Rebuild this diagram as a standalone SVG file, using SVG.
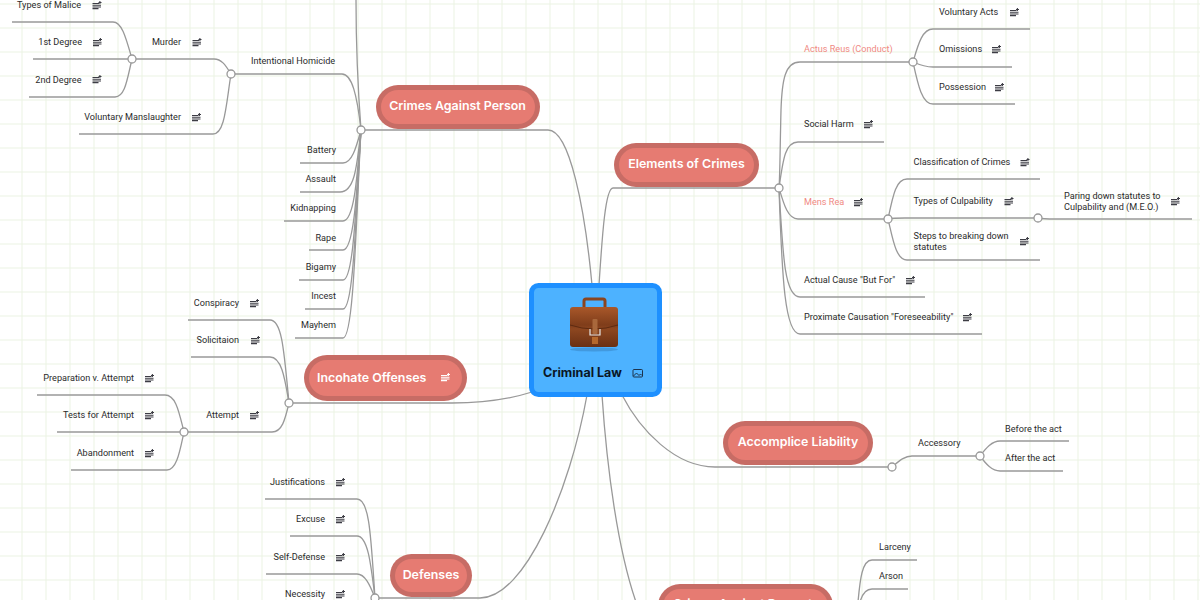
<svg xmlns="http://www.w3.org/2000/svg" width="1200" height="600" viewBox="0 0 1200 600">
<style>
text{font-family:"Roboto","Liberation Sans",sans-serif;font-size:9.15px;fill:#2b2b2b;dominant-baseline:central}
.r{text-anchor:end}
.red{fill:#f08a84}
.pill{font-family:"Inter","Liberation Sans",sans-serif;font-size:12.4px;font-weight:600;fill:#fff;text-anchor:middle;translate:0 -0.8px}
.root{font-family:"Inter","Liberation Sans",sans-serif;font-size:12.5px;font-weight:700;fill:#0a1626}
.o{fill:#c76c65}.i{fill:#e67b72}
.grid path{stroke:#ebf3e3;stroke-width:1;fill:none}
#connectors path{fill:none;stroke:#999;stroke-width:1.3}
#connectors circle{fill:#fff;stroke:#999;stroke-width:1.3}
</style>
<defs>
<g id="note" fill="none" stroke="#3c3c44" stroke-width="1.050"><path d="M0 2.500H6.500M0 4.200H8.500M0 5.900H8.500M0 7.600H6"/><path d="M7.400 0V3M6 1.500H9"/></g>
<g id="noteW" fill="none" stroke="#fff" stroke-width="1.050"><path d="M0 2.500H6.500M0 4.200H8.500M0 5.900H8.500M0 7.600H6"/><path d="M7.400 0V3M6 1.500H9"/></g>
<linearGradient id="bag" x1="0" y1="0" x2="0" y2="1"><stop offset="0" stop-color="#a9582a"/><stop offset="0.45" stop-color="#7f3d1a"/><stop offset="0.55" stop-color="#8d4720"/><stop offset="1" stop-color="#6a3014"/></linearGradient>
</defs>
<rect width="1200" height="600" fill="#fff"/>
<g class="grid"><path d="M22 0V600M46 0V600M70 0V600M94 0V600M118 0V600M142 0V600M166 0V600M190 0V600M214 0V600M238 0V600M262 0V600M286 0V600M310 0V600M334 0V600M358 0V600M382 0V600M406 0V600M430 0V600M454 0V600M478 0V600M502 0V600M526 0V600M550 0V600M574 0V600M598 0V600M622 0V600M646 0V600M670 0V600M694 0V600M718 0V600M742 0V600M766 0V600M790 0V600M814 0V600M838 0V600M862 0V600M886 0V600M910 0V600M934 0V600M958 0V600M982 0V600M1006 0V600M1030 0V600M1054 0V600M1078 0V600M1102 0V600M1126 0V600M1150 0V600M1174 0V600M1198 0V600"/><path d="M0 4H1200M0 28H1200M0 52H1200M0 76H1200M0 100H1200M0 124H1200M0 148H1200M0 172H1200M0 196H1200M0 220H1200M0 244H1200M0 268H1200M0 292H1200M0 316H1200M0 340H1200M0 364H1200M0 388H1200M0 412H1200M0 436H1200M0 460H1200M0 484H1200M0 508H1200M0 532H1200M0 556H1200M0 580H1200"/></g>
<g id="connectors">
<path d="M361 130H548C570 130 585 210 592 285"/>
<path d="M779 188H613C605 188 602 240 599 285"/>
<path d="M622 395C640 430 675 467 715 467H892"/>
<path d="M289 403H452C480 403 510 399 532 392"/>
<path d="M375 598H480C525 598 570 490 587 395"/>
<path d="M602 395C607 470 618 550 636 602"/>
<path d="M361 130C358 90 356 40 356 0"/>
<path d="M231 74H342C352 74 357 95 361 130"/>
<path d="M132 59H214C222 59 226 66 231 74"/>
<path d="M79 134H213C225 134 226 105 231 74"/>
<path d="M12 22H113C122 22 126 38 132 59"/>
<path d="M33 59H132"/>
<path d="M29 97H115C125 97 127 80 132 59"/>
<path d="M300 163H343C352 163 356 148 361 130"/>
<path d="M300 192H340C355 192 357 165 361 130"/>
<path d="M284 221H343C354 221 357 180 361 130"/>
<path d="M309 250H343C354 250 357 190 361 130"/>
<path d="M299 280H343C354 280 356 200 361 130"/>
<path d="M305 309H343C354 309 356 210 361 130"/>
<path d="M295 338H343C354 338 356 220 361 130"/>
<path d="M188 320H270C282 320 284 350 289 403"/>
<path d="M191 357H270C282 357 285 380 289 403"/>
<path d="M184 432H272C282 432 285 420 289 403"/>
<path d="M37 395H165C176 395 179 412 184 432"/>
<path d="M57 432H184"/>
<path d="M71 470H167C177 470 180 450 184 432"/>
<path d="M265 499H357C370 499 371 540 375 598"/>
<path d="M290 536H357C368 536 371 565 375 598"/>
<path d="M266 574H357C365 574 370 585 375 598"/>
<path d="M913 62H800C785 62 782 80 781 110C780 150 780 175 779 188"/>
<path d="M884 142H798C785 142 783 160 779 188"/>
<path d="M888 219H798C788 219 784 205 779 188"/>
<path d="M925 297H800C785 297 783 260 779 188"/>
<path d="M982 334H800C785 334 782 280 779 188"/>
<path d="M1030 29H933C922 29 918 45 913 62"/>
<path d="M1012 67H933C926 67 920 65 913 62"/>
<path d="M1015 104H933C922 104 918 85 913 62"/>
<path d="M1040 179H907C896 179 893 195 888 219"/>
<path d="M1038 218H905C898 218 893 218 888 219"/>
<path d="M1040 260H907C896 260 893 240 888 219"/>
<path d="M1192 219H1055C1048 219 1043 219 1038 218"/>
<path d="M892 467C898 462 904 456 912 456H980"/>
<path d="M1069 441H1000C992 441 986 448 980 456"/>
<path d="M1063 471H1000C992 471 986 464 980 456"/>
<path d="M917 560H872C862 560 860 580 858 602"/>
<path d="M908 589H872C865 589 862 595 860 602"/>
<circle cx="361" cy="130" r="4"/><circle cx="231" cy="74" r="4"/><circle cx="132" cy="59" r="4"/><circle cx="289" cy="403" r="4"/><circle cx="184" cy="432" r="4"/><circle cx="375" cy="598" r="4"/><circle cx="779" cy="188" r="4"/><circle cx="913" cy="62" r="4"/><circle cx="888" cy="219" r="4"/><circle cx="1038" cy="218" r="4"/><circle cx="892" cy="467" r="4"/><circle cx="980" cy="456" r="4"/>
</g>
<g id="root">
<rect x="531.500" y="285.500" width="128" height="109" rx="7" fill="#4db2ff" stroke="#1e90ff" stroke-width="5"/>
<ellipse cx="594" cy="349.500" rx="24" ry="2" fill="#3d8fd0" opacity="0.7"/>
<path d="M584 307V301Q584 299 586 299H603Q605 299 605 301V307" fill="none" stroke="#8a4520" stroke-width="3"/>
<rect x="570" y="307" width="48" height="40" rx="3" fill="url(#bag)"/>
<path d="M570 325Q594 333 618 325" fill="none" stroke="#5e2a10" stroke-width="1"/>
<rect x="592.500" y="319" width="5" height="15" rx="1" fill="#a9683c"/>
<path d="M590 329V335H600V329" fill="none" stroke="#e6e6e6" stroke-width="1.200"/>
<rect x="592" y="337" width="6" height="7" fill="#b5682c"/>
<text x="543" y="372" class="root">Criminal Law</text>
<g fill="none" stroke="#16263a" stroke-width="0.9"><rect x="633" y="369.500" width="9.500" height="7.500" rx="1"/><path d="M633.500 376L636.500 373L639 375.500L640.500 374L642 375.500"/></g>
</g>
<g id="n-person"><rect class="o" x="376" y="85" width="164" height="44" rx="22"/><rect class="i" x="381" y="90" width="154" height="34" rx="17"/><text class="pill" x="457.500" y="106">Crimes Against Person</text></g>
<g id="n-elements"><rect class="o" x="614" y="143" width="145" height="44" rx="22"/><rect class="i" x="619" y="148" width="135" height="34" rx="17"/><text class="pill" x="686.500" y="164">Elements of Crimes</text></g>
<g id="n-incohate"><rect class="o" x="304" y="355" width="163" height="46" rx="23"/><rect class="i" x="309" y="360" width="153" height="36" rx="18"/><text class="pill" x="317" y="378" style="text-anchor:start">Incohate Offenses</text><use href="#noteW" x="441" y="373"/></g>
<g id="n-accomplice"><rect class="o" x="723" y="421" width="150" height="44" rx="22"/><rect class="i" x="728" y="426" width="140" height="34" rx="17"/><text class="pill" x="798" y="442">Accomplice Liability</text></g>
<g id="n-defenses"><rect class="o" x="390" y="554" width="82" height="43" rx="21.500"/><rect class="i" x="395" y="559" width="72" height="33" rx="16.500"/><text class="pill" x="431" y="575">Defenses</text></g>
<g id="n-property"><rect class="o" x="658" y="584" width="175" height="44" rx="22"/><rect class="i" x="663" y="589" width="165" height="34" rx="17"/><text class="pill" x="673" y="604" style="text-anchor:start">Crimes Against Property</text></g>
<g id="n-left">
<text class="r" x="81" y="5">Types of Malice</text><use href="#note" x="92.500" y="1"/>
<text class="r" x="82" y="42">1st Degree</text><use href="#note" x="93" y="38"/>
<text class="r" x="81.500" y="79.500">2nd Degree</text><use href="#note" x="92.500" y="75"/>
<text class="r" x="181" y="117">Voluntary Manslaughter</text><use href="#note" x="192" y="113"/>
<text class="r" x="181" y="42">Murder</text><use href="#note" x="192.500" y="38"/>
<text x="251" y="61">Intentional Homicide</text>
<text class="r" x="336" y="150">Battery</text>
<text class="r" x="336" y="179">Assault</text>
<text class="r" x="336" y="208">Kidnapping</text>
<text class="r" x="336" y="238">Rape</text>
<text class="r" x="336" y="267">Bigamy</text>
<text class="r" x="336" y="296">Incest</text>
<text class="r" x="336" y="325">Mayhem</text>
<text class="r" x="239" y="303">Conspiracy</text><use href="#note" x="250" y="299"/>
<text class="r" x="239" y="340">Solicitaion</text><use href="#note" x="251" y="336"/>
<text class="r" x="239" y="415">Attempt</text><use href="#note" x="250" y="411"/>
<text class="r" x="134" y="378">Preparation v. Attempt</text><use href="#note" x="145" y="374"/>
<text class="r" x="134" y="415">Tests for Attempt</text><use href="#note" x="145" y="411"/>
<text class="r" x="134" y="453">Abandonment</text><use href="#note" x="145" y="449"/>
<text class="r" x="325" y="482">Justifications</text><use href="#note" x="336" y="478"/>
<text class="r" x="325" y="519">Excuse</text><use href="#note" x="336" y="515"/>
<text class="r" x="325" y="557">Self-Defense</text><use href="#note" x="336" y="553"/>
<text class="r" x="325" y="594">Necessity</text><use href="#note" x="336" y="590"/>
</g>
<g id="n-right">
<text class="red" x="804" y="49">Actus Reus (Conduct)</text>
<text x="939" y="12">Voluntary Acts</text><use href="#note" x="1010" y="8"/>
<text x="939" y="49">Omissions</text><use href="#note" x="992" y="45"/>
<text x="939" y="87">Possession</text><use href="#note" x="995" y="83"/>
<text x="804" y="124">Social Harm</text><use href="#note" x="864" y="120"/>
<text class="red" x="804" y="202">Mens Rea</text><use href="#note" x="854" y="198"/>
<text x="913.500" y="162">Classification of Crimes</text><use href="#note" x="1020.500" y="158"/>
<text x="913.500" y="201">Types of Culpability</text><use href="#note" x="1004.500" y="197"/>
<text x="913.500" y="236">Steps to breaking down</text><text x="913.500" y="247">statutes</text><use href="#note" x="1020" y="237"/>
<text x="1064" y="195.500">Paring down statutes to</text><text x="1064" y="206.500">Culpability and (M.E.O.)</text><use href="#note" x="1171" y="197"/>
<text x="804" y="280">Actual Cause "But For"</text><use href="#note" x="906" y="276"/>
<text x="804" y="317">Proximate Causation "Foreseeability"</text><use href="#note" x="963" y="313"/>
<text x="918" y="443">Accessory</text>
<text x="1005" y="429">Before the act</text>
<text x="1005" y="458">After the act</text>
<text x="879" y="547">Larceny</text>
<text x="879" y="576">Arson</text>
</g>
</svg>
